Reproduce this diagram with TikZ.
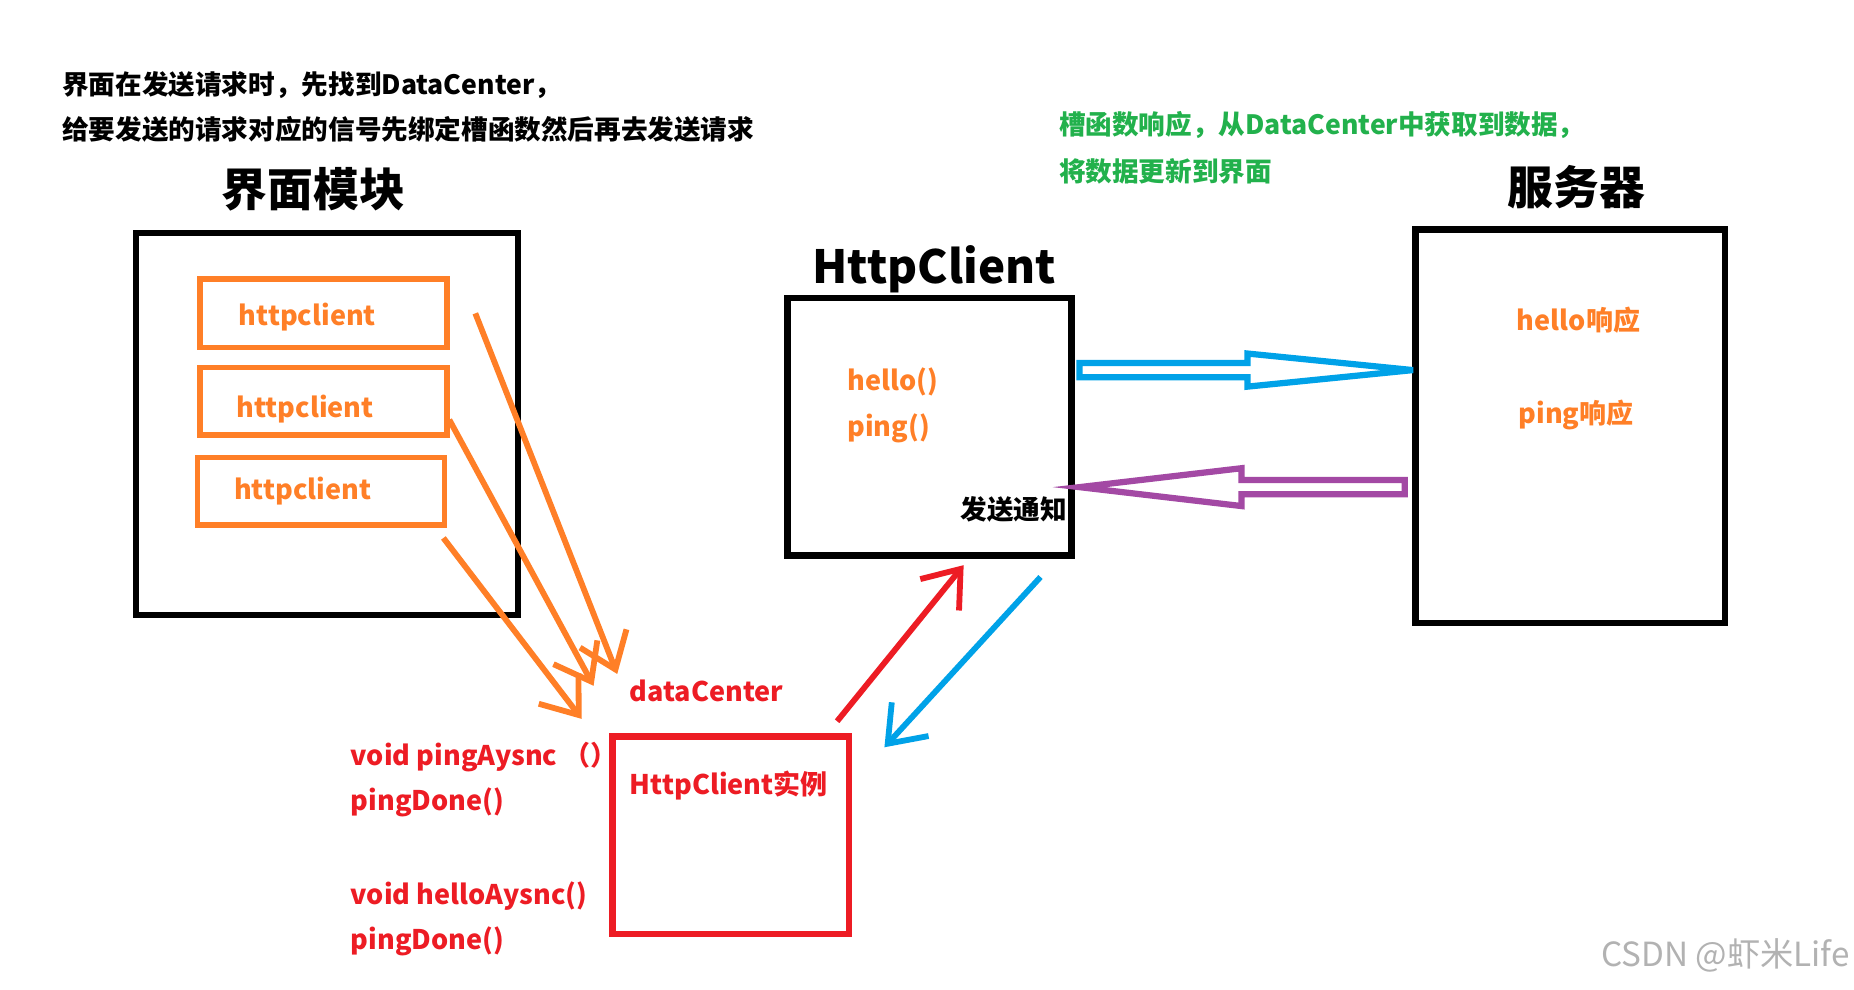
\documentclass[tikz,border=0pt]{standalone}
\usepackage{fontspec}
\setmainfont{Noto Sans CJK SC}
\usetikzlibrary{arrows.meta}
\definecolor{orng}{RGB}{255,127,39}
\definecolor{rd}{RGB}{237,28,36}
\definecolor{grn}{RGB}{34,177,76}
\definecolor{blu}{RGB}{0,162,232}
\definecolor{purp}{RGB}{163,73,164}
\tikzset{
  blk/.style={draw=black, line width=1.6pt},
  obox/.style={draw=orng, line width=1.3pt},
  small/.style={font=\fontsize{6.4}{7}\selectfont\bfseries, inner sep=0pt},
  lbl/.style={small, font=\fontsize{6.5}{7}\selectfont\bfseries},
  big/.style={font=\fontsize{11}{12}\selectfont\bfseries, inner sep=0pt},
  oarr/.style={orng, line width=1.4pt, -{Straight Barb[length=8pt,width=12pt]}},
}
\begin{document}
\begin{tikzpicture}[x=0.01cm, y=-0.01cm]
  \useasboundingbox[fill=white] (0,0) rectangle (1568,837);

  % notes
  \node[small, anchor=west] (n1) at (52,72) {界面在发送请求时，先找到DataCenter，};
  \node[small, anchor=west] (n2) at (52,109) {给要发送的请求对应的信号先绑定槽函数然后再去发送请求};
  \node[small, anchor=west, text=grn] (g1) at (895,106) {槽函数响应，从DataCenter中获取到数据，};
  \node[small, anchor=west, text=grn] (g2) at (895,145) {将数据更新到界面};

  % ui module
  \node[big] (t1) at (265,160) {界面模块};
  \draw[blk] (115,197) rectangle (438,520);
  \draw[obox] (169,236) rectangle (378,294);
  \draw[obox] (169,311) rectangle (378,368);
  \draw[obox] (167,387) rectangle (376,444);
  \node[lbl, text=orng] (h1) at (260,268) {httpclient};
  \node[lbl, text=orng] (h2) at (258,346) {httpclient};
  \node[lbl, text=orng] (h3) at (256,415) {httpclient};

  % httpclient
  \node[big] (t2) at (790,228) {HttpClient};
  \draw[blk] (666,252) rectangle (906,470);
  \node[lbl, anchor=west, text=orng] (f1) at (716,323) {hello()};
  \node[lbl, anchor=west, text=orng] (f2) at (716,362) {ping()};
  \node[small, anchor=east] (ntf) at (903,431) {发送通知};

  % server
  \node[big] (t3) at (1333,158) {服务器};
  \draw[blk] (1197,194) rectangle (1459,527);
  \node[lbl, text=orng] (r1) at (1335,271) {hello响应};
  \node[lbl, text=orng] (r2) at (1333,351) {ping响应};

  % hollow arrows
  \draw[blu, line width=1.5pt] (913,307) -- (1055,307) -- (1055,299) -- (1195,313)
    -- (1055,327) -- (1055,319) -- (913,319) -- cycle;
  \draw[purp, line width=1.5pt] (1188,406) -- (1050,406) -- (1050,396) -- (913,412)
    -- (1050,428) -- (1050,418) -- (1188,418) -- cycle;

  % data center
  \node[lbl, anchor=west, text=rd] (dc) at (532,584) {dataCenter};
  \draw[rd, line width=1.6pt] (518,623) rectangle (718,790);
  \node[lbl, anchor=west, text=rd] (inst) at (532,664) {HttpClient实例};
  \node[lbl, anchor=west, text=rd] (p1) at (296,640) {void pingAysnc （）};
  \node[lbl, anchor=west, text=rd] (p2) at (296,679) {pingDone()};
  \node[lbl, anchor=west, text=rd] (p3) at (296,758) {void helloAysnc()};
  \node[lbl, anchor=west, text=rd] (p4) at (296,796) {pingDone()};

  % connectors
  \coordinate (a1) at (402,265); \coordinate (b1) at (522,570);
  \coordinate (a2) at (380,355); \coordinate (b2) at (502,580);
  \coordinate (a3) at (375,455); \coordinate (b3) at (492,608);
  \draw[oarr] (a1) -- (b1);
  \draw[oarr] (a2) -- (b2);
  \draw[oarr] (a3) -- (b3);
  \coordinate (c1) at (708,610); \coordinate (d1) at (815,478);
  \coordinate (c2) at (880,488); \coordinate (d2) at (748,632);
  \draw[rd, line width=1.4pt, -{Straight Barb[length=8pt,width=12pt]}] (c1) -- (d1);
  \draw[blu, line width=1.4pt, -{Straight Barb[length=8pt,width=12pt]}] (c2) -- (d2);

  \node[text=gray!60, font=\fontsize{8}{9}\selectfont, anchor=east, inner sep=0pt] (wm) at (1565,808) {CSDN @虾米Life};
\end{tikzpicture}
\end{document}
